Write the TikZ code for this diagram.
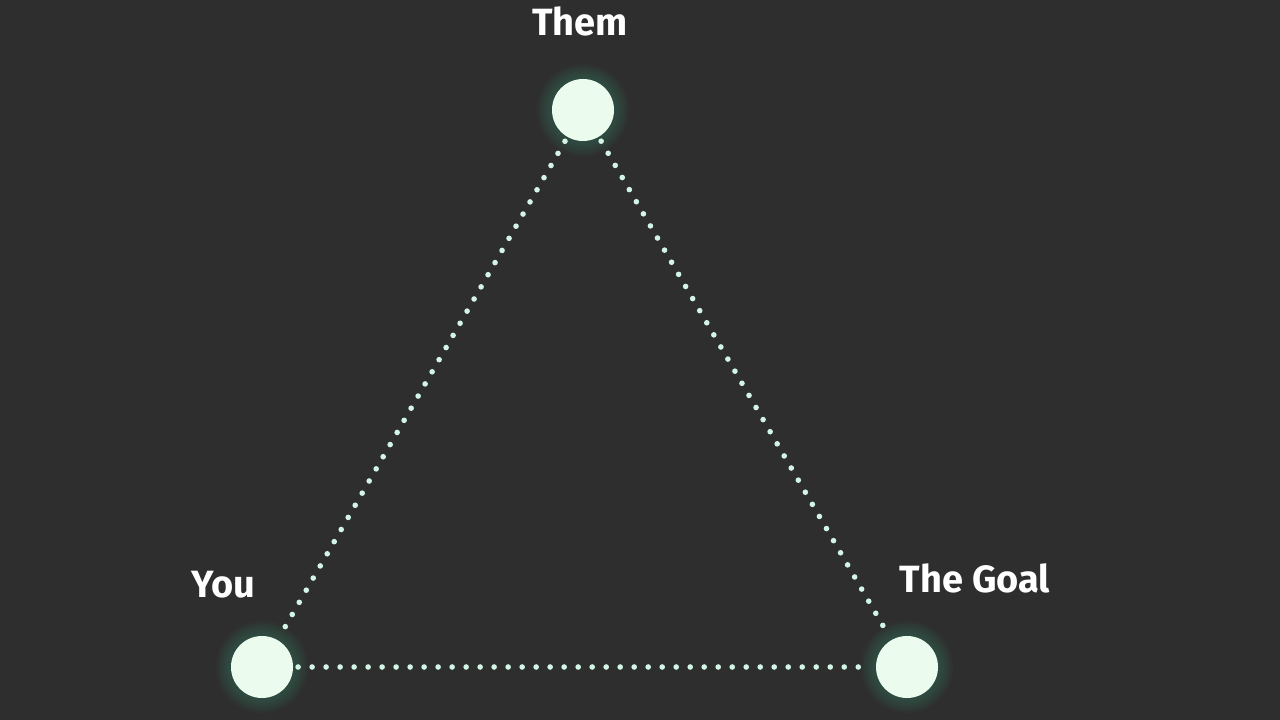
\documentclass[tikz,border=0pt]{standalone}
\usepackage{fontspec}
\setmainfont{Fira Sans}
\definecolor{bgc}{HTML}{2E2E2E}
\definecolor{dotc}{HTML}{D2F5E6}
\definecolor{ballc}{HTML}{EBFCEE}
\definecolor{glowc}{HTML}{3FA07A}
\tikzset{
  ball/.style = {circle, fill = ballc, inner sep = 0, minimum size = 1.55cm},
  dotline/.style = {dotc, line width = 0.14cm, line cap = round,
    dash pattern = on 0pt off 0.35cm, shorten >= 0.12cm, shorten <= 0.12cm},
  tag/.style = {text = white, anchor = base, font = \fontsize{27}{32}\selectfont\bfseries}
}
\newcommand\halo[1]{
  \foreach \r in {1.15, 1.09, ..., 0.8}
    \fill[glowc, opacity = 0.05] (#1) circle (\r cm);}

\begin{document}
\begin{tikzpicture}[x = 0.025cm, y = -0.025cm]
  \fill[bgc] (0, 0) rectangle (1280, 720);
  \useasboundingbox (0, 0) rectangle (1280, 720);

  \coordinate (T) at (583, 110);
  \coordinate (Y) at (262, 667);
  \coordinate (G) at (907, 667);

  \halo{T}
  \halo{Y}
  \halo{G}

  \node[ball] (them) at (T) {};
  \node[ball] (you) at (Y) {};
  \node[ball] (goal) at (G) {};

  \draw[dotline] (them) -- (you);
  \draw[dotline] (them) -- (goal);
  \draw[dotline] (you) -- (goal);

  \node[tag] (themtag) at (580, 36) {Them};
  \node[tag] (youtag) at (223, 597) {You};
  \node[tag] (goaltag) at (975, 592) {The Goal};
\end{tikzpicture}
\end{document}
